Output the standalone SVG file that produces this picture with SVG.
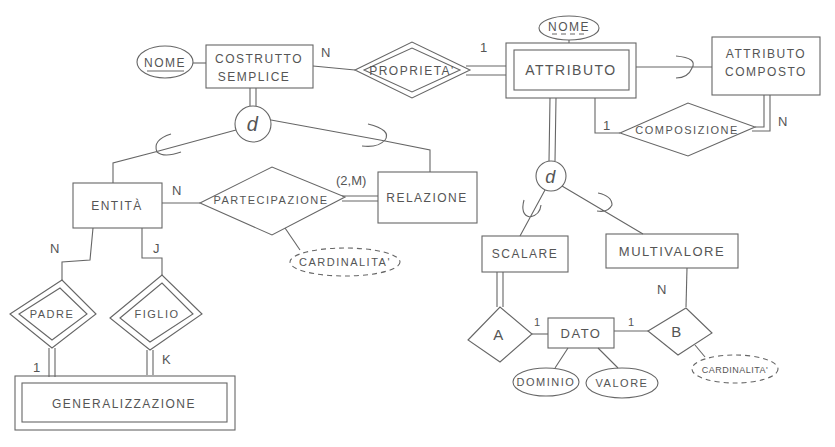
<svg xmlns="http://www.w3.org/2000/svg" width="835" height="447" viewBox="0 0 835 447">
<style>
.s{fill:none;stroke:#666;stroke-width:1.1}
.d{fill:none;stroke:#666;stroke-width:1.1;stroke-dasharray:5 4}
text{font-family:"Liberation Sans",sans-serif;font-size:12px;fill:#555;letter-spacing:1.5px}
.c{text-anchor:middle}
.l{font-size:13px;letter-spacing:0}
</style>
<rect width="835" height="447" fill="#fff"/>
<g id="connectors" class="s">
<path d="M193,63 L206,63"/>
<path d="M313,66 L355,70"/>
<path d="M466,66 L506,66 M466,75 L506,75"/>
<path d="M569,40 L569,43"/>
<path d="M636,67 L712,67 M676,56 Q698,58 692,68 Q688,78 676,78"/>
<path d="M595,98 L595,133 L620,133"/>
<path d="M764,95 L764,127 L755,127 M770,95 L770,131 L752,131"/>
<path d="M250,88 L250,106 M256,88 L256,106"/>
<path d="M236,130 L155,152 L113,163 L113,183 M171,134 Q152,140 157,152 Q164,158 181,152"/>
<path d="M271,120 L380,140 L430,150 L430,172 M368,124 Q392,130 385,140 Q378,148 362,146"/>
<path d="M162,203 L200,203"/>
<path d="M342,196 L378,196 M342,201 L378,201"/>
<path d="M285,228 L300,250"/>
<path d="M93,228 L90,260 L62,262 L62,280"/>
<path d="M142,228 L142,258 L162,258 L162,275"/>
<path d="M49,348 L49,377 M55,348 L55,377"/>
<path d="M147,350 L147,375 M153,350 L153,375"/>
<path d="M550,98 L549,161 M556,98 L555,161"/>
<path d="M545,190 L520,236 M524,200 Q520,215 530,217 Q540,215 541,205"/>
<path d="M562,186 L643,234 M598,193 Q612,196 612,205 Q608,213 597,211"/>
<path d="M497,272 L497,307 M503,272 L503,307"/>
<path d="M532,334 L548,334"/>
<path d="M614,331 L648,331"/>
<path d="M687,268 L686,307"/>
<path d="M695,345 L705,357"/>
<path d="M568,348 L555,368 M598,348 L618,368"/>
</g>
<g id="nome1"><ellipse class="s" cx="165" cy="62" rx="28" ry="16"/><text x="165" y="67" class="c">NOME</text><path class="s" d="M147,71 L184,71"/></g>
<g id="costrutto"><rect class="s" x="206" y="45" width="107" height="43"/><text x="259" y="63" class="c">COSTRUTTO</text><text x="254" y="81" class="c">SEMPLICE</text></g>
<g id="proprieta"><path class="s" d="M355,70 L412,42 L470,70 L412,98 Z M364,70 L412,48 L460,70 L412,92 Z"/><text x="412" y="75" class="c">PROPRIETA'</text></g>
<g id="attributo"><rect class="s" x="506" y="43" width="130" height="55"/><rect class="s" x="514" y="50" width="115" height="40"/><text x="571" y="75" class="c" style="font-size:14px">ATTRIBUTO</text></g>
<g id="nome2"><ellipse class="s" cx="569" cy="28" rx="30" ry="12"/><text x="569" y="31" class="c">NOME</text><path class="d" d="M552,34 L587,34"/></g>
<g id="attrcomp"><rect class="s" x="712" y="37" width="108" height="58"/><text x="766" y="58" class="c">ATTRIBUTO</text><text x="766" y="76" class="c">COMPOSTO</text></g>
<g id="composizione"><path class="s" d="M620,133 L688,103 L755,127 L688,156 Z"/><text x="687" y="134" class="c" style="font-size:11px">COMPOSIZIONE</text></g>
<g id="d1"><circle class="s" cx="253" cy="124" r="18"/><text x="253" y="131" class="c" style="font-size:20px;font-style:italic">d</text></g>
<g id="entita"><rect class="s" x="73" y="183" width="89" height="45"/><text x="117" y="210" class="c">ENTITÀ</text></g>
<g id="partecipazione"><path class="s" d="M200,203 L272,167 L345,197 L272,235 Z"/><text x="271" y="204" class="c" style="font-size:11px">PARTECIPAZIONE</text></g>
<g id="relazione"><rect class="s" x="378" y="172" width="99" height="51"/><text x="427" y="202" class="c">RELAZIONE</text></g>
<g id="card1"><ellipse class="d" cx="345" cy="262" rx="55" ry="14"/><text x="345" y="266" class="c" style="font-size:11px">CARDINALITA'</text></g>
<g id="padre"><path class="s" d="M10,314 L62,280 L96,314 L52,348 Z M19,314 L60,288 L87,314 L52,340 Z"/><text x="52" y="318" class="c" style="font-size:11px">PADRE</text></g>
<g id="figlio"><path class="s" d="M110,318 L162,275 L202,314 L150,350 Z M120,318 L162,283 L193,314 L150,342 Z"/><text x="157" y="318" class="c" style="font-size:11px">FIGLIO</text></g>
<g id="generalizzazione"><rect class="s" x="15" y="376" width="220" height="54"/><rect class="s" x="22" y="383" width="205" height="39"/><text x="124" y="408" class="c">GENERALIZZAZIONE</text></g>
<g id="d2"><circle class="s" cx="551" cy="176" r="15"/><text x="551" y="183" class="c" style="font-size:18px;font-style:italic">d</text></g>
<g id="scalare"><rect class="s" x="482" y="236" width="86" height="36"/><text x="525" y="258" class="c">SCALARE</text></g>
<g id="multivalore"><rect class="s" x="606" y="234" width="132" height="34"/><text x="672" y="256" class="c" style="font-size:13px">MULTIVALORE</text></g>
<g id="a"><path class="s" d="M468,340 L500,307 L532,334 L500,362 Z"/><text x="499" y="340" class="c" style="font-size:15px">A</text></g>
<g id="dato"><rect class="s" x="548" y="318" width="66" height="30"/><text x="581" y="338" class="c" style="font-size:13px">DATO</text></g>
<g id="b"><path class="s" d="M648,331 L686,308 L712,333 L678,355 Z"/><text x="677" y="337" class="c" style="font-size:15px">B</text></g>
<g id="card2"><ellipse class="d" cx="735" cy="369" rx="43" ry="14"/><text x="735" y="373" class="c" style="font-size:9px;letter-spacing:0.5px">CARDINALITA'</text></g>
<g id="dominio"><ellipse class="s" cx="546" cy="382" rx="33" ry="14"/><text x="546" y="386" class="c" style="font-size:11px">DOMINIO</text></g>
<g id="valore"><ellipse class="s" cx="622" cy="383" rx="36" ry="15"/><text x="622" y="387" class="c" style="font-size:11px">VALORE</text></g>
<g id="labels">
<text x="321" y="57" class="l">N</text>
<text x="480" y="52" class="l">1</text>
<text x="603" y="130" class="l">1</text>
<text x="778" y="126" class="l">N</text>
<text x="172" y="195" class="l">N</text>
<text x="336" y="185" class="l">(2,M)</text>
<text x="50" y="253" class="l">N</text>
<text x="153" y="253" class="l">J</text>
<text x="33" y="372" class="l">1</text>
<text x="162" y="364" class="l">K</text>
<text x="534" y="326" class="l" style="font-size:11px">1</text>
<text x="628" y="326" class="l" style="font-size:11px">1</text>
<text x="657" y="294" class="l">N</text>
</g>
</svg>
